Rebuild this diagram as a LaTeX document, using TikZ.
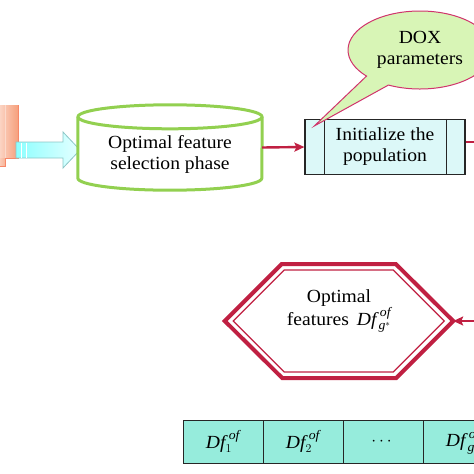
\documentclass[tikz,border=0pt]{standalone}
\usepackage{fontspec}
\setmainfont[FakeStretch=1.06]{Liberation Serif}
\usepackage{amsmath}
\usetikzlibrary{arrows.meta, shapes.callouts}
\definecolor{crim}{RGB}{192,32,66}
\definecolor{leaf}{RGB}{146,208,80}
\definecolor{ice}{RGB}{220,248,248}
\definecolor{aqua}{RGB}{150,236,220}
\definecolor{mint}{RGB}{216,245,182}
\definecolor{rose}{RGB}{208,52,108}
\definecolor{peach}{RGB}{246,160,124}
\begin{document}
\begin{tikzpicture}[x=1pt, y=-1pt, font=\fontsize{18.5}{21}\selectfont,
  txt/.style={align=center, inner sep=0pt},
  link/.style={crim, line width=2.4pt, -{Stealth[length=10pt, width=9pt, inset=2pt]}},
  cyl/.style={leaf, line width=3pt, fill=white},
  cell/.style={draw=black!85, line width=1pt, fill=aqua, minimum width=80pt, minimum height=43pt}]
\useasboundingbox (0,0) rectangle (474,474);
% source block and input arrow
\shade[left color=peach!35, right color=peach] (-4,105) rectangle (18,158);
\shade[left color=peach!35, right color=peach!80] (-4,158) rectangle (5,166);
\draw[peach!85!red, line width=0.8pt] (18,105) -- (18,158) -- (5,158) -- (5,166) -- (-4,166);
\draw[white!60!peach, line width=0.8pt] (5,105) -- (5,158);
\draw[left color=cyan!45!white, right color=cyan!10!white, draw=teal!45!white, line width=0.8pt]
  (16,142) -- (63,142) -- (63,132) -- (80,150) -- (63,168) -- (63,158) -- (16,158) -- cycle;
\foreach \x in {21,26} \draw[white, line width=1pt] (\x,142.5) -- (\x,157.5);
% feature selection phase
\node[minimum width=184pt, minimum height=85pt] (phase) at (170,147.5) {};
\draw[cyl] ([yshift=-12pt]phase.north west) -- ([yshift=12pt]phase.south west)
  arc[start angle=180, end angle=0, x radius=92, y radius=12] -- ([yshift=-12pt]phase.north east);
\draw[cyl] ([yshift=-12pt]phase.north) ellipse[x radius=92, y radius=12];
\node[txt] at ([yshift=-7pt]phase.center) {Optimal feature\\selection phase};
% population
\node[draw=black!85, line width=1.2pt, fill=ice, minimum width=160pt, minimum height=55pt, align=center] (init) at (385,147) {Initialize the\\population};
\foreach \s in {20,142} \draw[black!85, line width=1.2pt] ([xshift=\s pt]init.north west) -- ([xshift=\s pt]init.south west);
\node[ellipse callout, draw=rose, line width=1pt, fill=mint, minimum width=144pt, minimum height=78pt, align=center,
  callout pointer arc=22, callout absolute pointer={([shift={(10,7)}]init.north west)}] (dox) at (420,50) {DOX\\parameters};
\draw[link] (phase.east) -- (init.west);
\coordinate (outR) at (480,142);
\draw[crim, line width=2.4pt] (init.east |- outR) -- (outR);
% optimal features
\node[minimum width=228pt, minimum height=114pt] (opt) at (339,321) {};
\draw[crim, line width=4pt, line join=miter] (opt.west) -- ++(57,-57) -- ++(114,0) -- (opt.east) -- ++(-57,57) -- ++(-114,0) -- cycle;
\draw[crim, line width=1.3pt, line join=miter] ([xshift=8.5pt]opt.west) -- ++(51,-51) -- ++(109,0) -- ++(51,51) -- ++(-51,51) -- ++(-109,0) -- cycle;
\node[txt] at ([yshift=10pt]opt.center) {Optimal\\features\, $\textit{Df}^{\;\textit{of}}_{\,\textit{g}^*}$};
\coordinate (inR) at (480,321);
\draw[link] (inR) -- (opt.east);
% feature vector
\foreach \t [count=\i] in {{$\textit{Df}_{1}^{\;\textit{of}}$}, {$\textit{Df}_{2}^{\;\textit{of}}$}, {$\cdots$}, {$\textit{Df}_{\,\textit{g}^*}^{\;\textit{of}}$}}
  \node[cell] (cell\i) at (143+80*\i, 441.5) {\t};
\end{tikzpicture}
\end{document}
